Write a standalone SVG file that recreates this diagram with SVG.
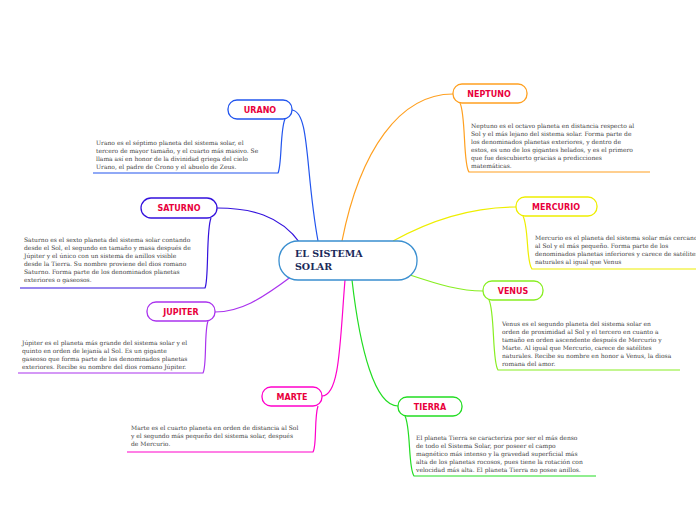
<svg xmlns="http://www.w3.org/2000/svg" width="696" height="520" viewBox="0 0 696 520">
<style>
.n{fill:#fff;stroke-width:1.3}
.t{font-family:"DejaVu Sans",sans-serif;font-weight:bold;font-size:8px;fill:#e8003c;text-anchor:middle}
.d{font-family:"DejaVu Serif",serif;font-size:6px;fill:#444}
.c{fill:none;stroke-width:1.2}
</style>
<rect width="696" height="520" fill="#fff"/>
<g id="connectors">
<path class="c" stroke="#2255ee" d="M318,241 C305,170 310,112 292,110"/>
<path class="c" stroke="#3311dd" d="M300,243 C280,215 250,208 217,208"/>
<path class="c" stroke="#aa33ee" d="M292,276 C260,300 240,312 215,312"/>
<path class="c" stroke="#ff00cc" d="M345,280 C340,340 340,396 322,396"/>
<path class="c" stroke="#ffa020" d="M342,241 C360,150 400,94 453,94"/>
<path class="c" stroke="#eeee00" d="M393,241 C440,215 480,207 516,207"/>
<path class="c" stroke="#88ee22" d="M410,275 C440,285 460,291 483,291"/>
<path class="c" stroke="#22dd22" d="M352,280 C360,350 375,406 398,406"/>
<path class="c" stroke="#2255ee" d="M285,119 C280,130 282,165 278,173 L93,173"/>
<path class="c" stroke="#3311dd" d="M211,218 C206,230 209,280 205,288 L20,288"/>
<path class="c" stroke="#aa33ee" d="M208,321 C204,332 207,366 203,373 L18,373"/>
<path class="c" stroke="#ff00cc" d="M318,406 C314,418 317,446 313,452 L127,452"/>
<path class="c" stroke="#ffa020" d="M460,103 C466,115 463,165 469,172 L650,172"/>
<path class="c" stroke="#eeee00" d="M523,216 C529,228 526,262 532,269 L696,269"/>
<path class="c" stroke="#88ee22" d="M489,300 C495,312 492,362 498,370 L680,370"/>
<path class="c" stroke="#22dd22" d="M405,416 C411,428 408,468 414,476 L596,476"/>
</g>
<g id="center">
<rect class="n" x="279" y="241" width="138" height="39" rx="19" stroke="#3a8fd0"/>
<text x="295" y="257" font-family="DejaVu Serif,serif" font-weight="bold" font-size="9.5" fill="#1b2a5a">EL SISTEMA</text>
<text x="295" y="270" font-family="DejaVu Serif,serif" font-weight="bold" font-size="9.5" fill="#1b2a5a">SOLAR</text>
</g>
<g id="urano">
<rect class="n" x="228" y="100" width="64" height="19" rx="9" stroke="#2255ee"/>
<text class="t" x="260" y="113">URANO</text>
<text class="d"><tspan x="96" y="145">Urano es el séptimo planeta del sistema solar, el</tspan><tspan x="96" y="153">tercero de mayor tamaño, y el cuarto más masivo. Se</tspan><tspan x="96" y="161">llama así en honor de la divinidad griega del cielo</tspan><tspan x="96" y="169">Urano, el padre de Crono y el abuelo de Zeus.</tspan></text>
</g>
<g id="saturno">
<rect class="n" x="141" y="198" width="76" height="20" rx="10" stroke="#3311dd"/>
<text class="t" x="179" y="211">SATURNO</text>
<text class="d"><tspan x="24" y="242">Saturno es el sexto planeta del sistema solar contando</tspan><tspan x="24" y="250">desde el Sol, el segundo en tamaño y masa después de</tspan><tspan x="24" y="258">Júpiter y el único con un sistema de anillos visible</tspan><tspan x="24" y="266">desde la Tierra. Su nombre proviene del dios romano</tspan><tspan x="24" y="274">Saturno. Forma parte de los denominados planetas</tspan><tspan x="24" y="282">exteriores o gaseosos.</tspan></text>
</g>
<g id="jupiter">
<rect class="n" x="147" y="302" width="68" height="19" rx="9" stroke="#aa33ee"/>
<text class="t" x="181" y="315">JUPITER</text>
<text class="d"><tspan x="22" y="345">Júpiter es el planeta más grande del sistema solar y el</tspan><tspan x="22" y="353">quinto en orden de lejanía al Sol. Es un gigante</tspan><tspan x="22" y="361">gaseoso que forma parte de los denominados planetas</tspan><tspan x="22" y="369">exteriores. Recibe su nombre del dios romano Júpiter.</tspan></text>
</g>
<g id="marte">
<rect class="n" x="262" y="387" width="60" height="19" rx="9" stroke="#ff00cc"/>
<text class="t" x="292" y="400">MARTE</text>
<text class="d"><tspan x="131" y="430">Marte es el cuarto planeta en orden de distancia al Sol</tspan><tspan x="131" y="438">y el segundo más pequeño del sistema solar, después</tspan><tspan x="131" y="446">de Mercurio.</tspan></text>
</g>
<g id="neptuno">
<rect class="n" x="453" y="84" width="74" height="19" rx="9" stroke="#ffa020"/>
<text class="t" x="489" y="97">NEPTUNO</text>
<text class="d"><tspan x="471" y="128">Neptuno es el octavo planeta en distancia respecto al</tspan><tspan x="471" y="136">Sol y el más lejano del sistema solar. Forma parte de</tspan><tspan x="471" y="144">los denominados planetas exteriores, y dentro de</tspan><tspan x="471" y="152">estos, es uno de los gigantes helados, y es el primero</tspan><tspan x="471" y="160">que fue descubierto gracias a predicciones</tspan><tspan x="471" y="168">matemáticas.</tspan></text>
</g>
<g id="mercurio">
<rect class="n" x="516" y="197" width="81" height="19" rx="9" stroke="#eeee00"/>
<text class="t" x="556" y="210">MERCURIO</text>
<text class="d"><tspan x="535" y="240">Mercurio es el planeta del sistema solar más cercano</tspan><tspan x="535" y="248">al Sol y el más pequeño. Forma parte de los</tspan><tspan x="535" y="256">denominados planetas inferiores y carece de satélites</tspan><tspan x="535" y="264">naturales al igual que Venus</tspan></text>
</g>
<g id="venus">
<rect class="n" x="483" y="281" width="60" height="19" rx="9" stroke="#88ee22"/>
<text class="t" x="513" y="294">VENUS</text>
<text class="d"><tspan x="502" y="326">Venus es el segundo planeta del sistema solar en</tspan><tspan x="502" y="334">orden de proximidad al Sol y el tercero en cuanto a</tspan><tspan x="502" y="342">tamaño en orden ascendente después de Mercurio y</tspan><tspan x="502" y="350">Marte. Al igual que Mercurio, carece de satélites</tspan><tspan x="502" y="358">naturales. Recibe su nombre en honor a Venus, la diosa</tspan><tspan x="502" y="366">romana del amor.</tspan></text>
</g>
<g id="tierra">
<rect class="n" x="398" y="397" width="64" height="19" rx="9" stroke="#22dd22"/>
<text class="t" x="430" y="410">TIERRA</text>
<text class="d"><tspan x="416" y="440">El planeta Tierra se caracteriza por ser el más denso</tspan><tspan x="416" y="448">de todo el Sistema Solar, por poseer el campo</tspan><tspan x="416" y="456">magnético más intenso y la gravedad superficial más</tspan><tspan x="416" y="464">alta de los planetas rocosos, pues tiene la rotación con</tspan><tspan x="416" y="472">velocidad más alta. El planeta Tierra no posee anillos.</tspan></text>
</g>
</svg>
